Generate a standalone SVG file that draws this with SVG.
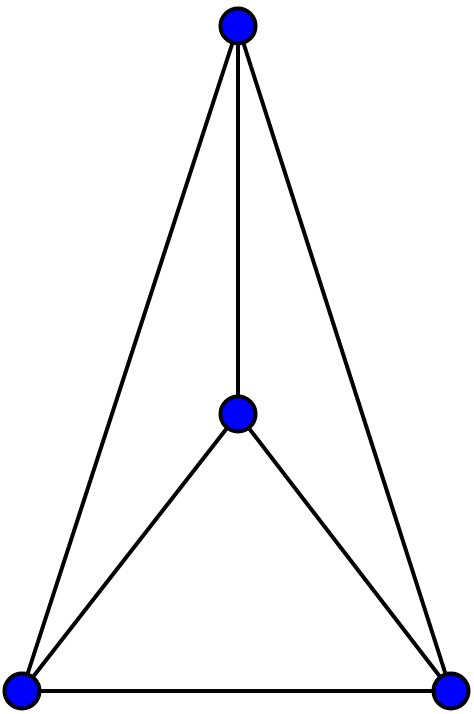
<svg xmlns="http://www.w3.org/2000/svg" width="474" height="714" viewBox="0 0 474 714">
<style>
.e{stroke:#000;stroke-width:4;fill:none}
.n{fill:#0000ff;stroke:#000;stroke-width:4}
</style>
<rect width="474" height="714" fill="#fff"/>
<g id="edges">
<line class="e" x1="238" y1="26" x2="238" y2="414"/>
<line class="e" x1="238" y1="26" x2="22" y2="691"/>
<line class="e" x1="238" y1="26" x2="451" y2="691"/>
<line class="e" x1="238" y1="414" x2="22" y2="691"/>
<line class="e" x1="238" y1="414" x2="451" y2="691"/>
<line class="e" x1="22" y1="691" x2="451" y2="691"/>
</g>
<g id="n-top"><circle class="n" cx="238" cy="26" r="17.5"/></g>
<g id="n-mid"><circle class="n" cx="238" cy="414" r="17.5"/></g>
<g id="n-bl"><circle class="n" cx="22" cy="691" r="17.5"/></g>
<g id="n-br"><circle class="n" cx="451" cy="691" r="17.5"/></g>
</svg>
